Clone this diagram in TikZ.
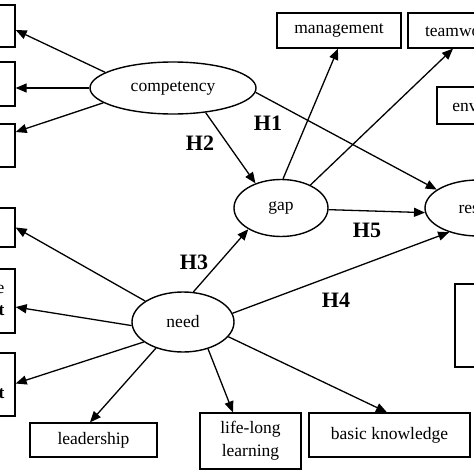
\documentclass[tikz,border=0pt]{standalone}
\usepackage{fontspec}
\setmainfont{Liberation Serif}
\usetikzlibrary{arrows.meta,shapes.geometric}
\begin{document}
\begin{tikzpicture}[x=1pt,y=-1pt, line width=1.3pt,
  every node/.style={font=\fontsize{17.5}{23}\selectfont},
  ell/.style={draw, ellipse, inner sep=0pt, line width=1.4pt},
  box/.style={draw, rectangle, inner sep=0pt, align=center},
  hlab/.style={font=\fontsize{22}{24}\selectfont\bfseries},
  frag/.style={anchor=base east, inner sep=0pt},
  arr/.style={-{Triangle[length=11pt,width=9pt]}}]
\useasboundingbox (0,0) rectangle (474,474);
\clip (0,0) rectangle (474,474);

% latent variables
\node[ell, minimum width=166pt, minimum height=52pt] (comp) at (173,88) {competency};
\node[ell, minimum width=94pt, minimum height=57pt] (gap) at (281,208) {gap};
\node[ell, minimum width=106pt, minimum height=56pt] (res) at (478,208) {result};
\node[ell, minimum width=102pt, minimum height=60pt] (need) at (183,322) {need};

% left boxes (cut off)
\node[box, minimum width=55pt, minimum height=42pt] (b1) at (-12.5,26) {};
\node[box, minimum width=55pt, minimum height=44pt] (b2) at (-12.5,84) {};
\node[box, minimum width=55pt, minimum height=43pt] (b3) at (-12.5,145.5) {};
\node[box, minimum width=55pt, minimum height=39pt] (b4) at (-12.5,227.5) {};
\node[box, minimum width=55pt, minimum height=64pt] (b5) at (-12.5,301) {};
\node[box, minimum width=55pt, minimum height=63pt] (b6) at (-12.5,384.5) {};
\node[frag] (b5a) at (5,293) {e};
\node[frag, font=\fontsize{17.5}{23}\selectfont\bfseries] (b5b) at (5,315) {t};
\node[frag, font=\fontsize{17.5}{23}\selectfont\bfseries] (b6a) at (5,398) {t};

% top / right boxes
\node[box, minimum width=124pt, minimum height=35pt] (mgmt) at (339,30.5) {management};
\node[box, minimum width=104pt, minimum height=35pt] (team) at (460,30.5) {teamwork};
\node[box, minimum width=119pt, minimum height=37pt] (env) at (496.5,105.5) {environment};
\node[box, minimum width=60pt, minimum height=83pt] (rbox) at (485,325.5) {};

% bottom boxes
\node[box, minimum width=127pt, minimum height=34pt] (lead) at (93.5,440) {leadership};
\node[box, minimum width=101pt, minimum height=56pt] (ll) at (250.5,441) {life-long\\learning};
\node[box, minimum width=161pt, minimum height=44pt] (basic) at (389.5,435) {basic knowledge};

% competency indicators
\draw[arr] (comp.167) -- ([yshift=-4pt]b1.east);
\draw[arr] (comp.180) -- ([yshift=-4pt]b2.east);
\draw[arr] (comp.192) -- ([yshift=13.5pt]b3.east);

% need indicators
\draw[arr] (need.151) -- (b4.east);
\draw[arr] (need.184.5) -- ([yshift=-6pt]b5.east);
\draw[arr] (need.207) -- ([yshift=1pt]b6.east);
\draw[arr] (need.224) -- ([xshift=-3.5pt]lead.north);
\draw[arr] (need.313) -- ([xshift=-17.5pt]ll.north);
\draw[arr] (need.342) -- ([xshift=-2.5pt]basic.north);

% gap indicators
\draw[arr] (gap.86) -- ([xshift=-1pt]mgmt.south);
\draw[arr] (gap.38) -- ([xshift=-7pt]team.south);

% hypotheses
\draw[arr] (comp.357) -- (res.156);
\draw[arr] (comp.323) -- (gap.136);
\draw[arr] (need.71) -- (gap.213.7);
\draw[arr] (need.10) -- (res.220.6);
\draw[arr] (gap.358) -- (res.185.7);

\node[hlab] (h1) at (268,123) {H1};
\node[hlab] (h2) at (200,143) {H2};
\node[hlab] (h3) at (194,262) {H3};
\node[hlab] (h5) at (367,230) {H5};
\node[hlab] (h4) at (336,300) {H4};
\end{tikzpicture}
\end{document}
